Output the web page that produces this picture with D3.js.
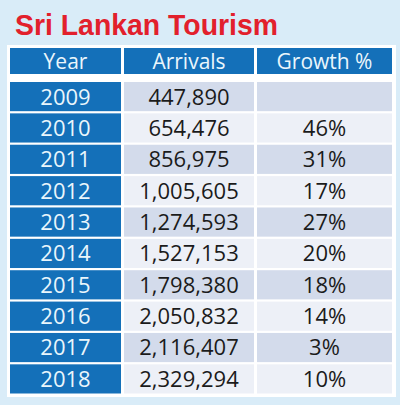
<!DOCTYPE html>
<html lang="en">
<head>
  <meta charset="UTF-8" />
  <title>Sri Lankan Tourism</title>
  <script src="https://d3js.org/d3.v7.min.js"></script>
  <style>
    body { margin: 0; background: #d9ecf8; }
    svg { display: block; }
  </style>
</head>
<body>
  <svg id="chart" width="400" height="405"></svg>
  <script>
    // table data
    const headers = ["Year", "Arrivals", "Growth %"];
    const years = [2009, 2010, 2011, 2012, 2013, 2014, 2015, 2016, 2017, 2018];
    const arrivals = [447890, 654476, 856975, 1005605, 1274593, 1527153, 1798380, 2050832, 2116407, 2329294];
    const growth = [null, 46, 31, 17, 27, 20, 18, 14, 3, 10];

    const W = 400, H = 405;
    const svg = d3.select("#chart");

    // background + white panel behind the table
    svg.append("rect").attr("width", W).attr("height", H).attr("fill", "#d9ecf8");
    svg.append("rect")
      .attr("x", 7).attr("y", 45).attr("width", 389).attr("height", 352)
      .attr("fill", "#ffffff");

    // title
    svg.append("text")
      .attr("x", 15).attr("y", 35)
      .attr("font-family", "'Liberation Sans', Arial, sans-serif")
      .attr("font-weight", "bold")
      .attr("font-size", 30)
      .attr("textLength", 263)
      .attr("lengthAdjust", "spacingAndGlyphs")
      .attr("fill", "#e2202c")
      .text("Sri Lankan Tourism");

    // column layout (left edge, width)
    const cols = [
      { x: 10, w: 111 },
      { x: 124, w: 130 },
      { x: 257, w: 135 }
    ];

    const y = d3.scaleBand()
      .domain(years)
      .range([82, 393.5])
      .paddingInner(0.07);

    const fmt = d3.format(",");
    const blue = "#1470b9";
    const cellText = "#eaf6fc";
    const font = "'Open Sans', 'Noto Sans', sans-serif";

    // header row
    const head = svg.append("g");
    headers.forEach((h, i) => {
      head.append("rect")
        .attr("x", cols[i].x).attr("y", 48)
        .attr("width", cols[i].w).attr("height", 26)
        .attr("fill", blue);
      head.append("text")
        .attr("x", cols[i].x + cols[i].w / 2)
        .attr("y", 61)
        .attr("dy", "0.36em")
        .attr("text-anchor", "middle")
        .attr("font-family", font)
        .attr("font-size", 21)
        .attr("fill", cellText)
        .text(h);
    });

    // data rows
    const rows = svg.append("g").selectAll("g")
      .data(years.map((yr, i) => ({ yr, arr: arrivals[i], g: growth[i], i })))
      .join("g")
      .attr("transform", d => `translate(0,${y(d.yr)})`);

    const rowFill = d => d.i % 2 === 0 ? "#d3dbeb" : "#edf0f7";

    rows.append("rect")
      .attr("x", cols[0].x).attr("width", cols[0].w)
      .attr("height", y.bandwidth())
      .attr("fill", blue);
    rows.append("rect")
      .attr("x", cols[1].x).attr("width", cols[1].w)
      .attr("height", y.bandwidth())
      .attr("fill", rowFill);
    rows.append("rect")
      .attr("x", cols[2].x).attr("width", cols[2].w)
      .attr("height", y.bandwidth())
      .attr("fill", rowFill);

    const addText = (sel, ci, fill, fn) => sel.append("text")
      .attr("x", cols[ci].x + cols[ci].w / 2)
      .attr("y", y.bandwidth() / 2)
      .attr("dy", "0.36em")
      .attr("text-anchor", "middle")
      .attr("font-family", font)
      .attr("font-size", 22)
      .attr("fill", fill)
      .text(fn);

    addText(rows, 0, cellText, d => d.yr);
    addText(rows, 1, "#1b1b1b", d => fmt(d.arr));
    addText(rows, 2, "#1b1b1b", d => d.g == null ? "" : d.g + "%");
  </script>
</body>
</html>
